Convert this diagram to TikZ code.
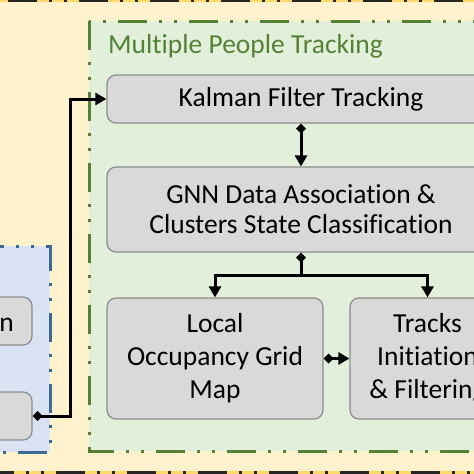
\documentclass[tikz,border=0pt]{standalone}
\usepackage{fontspec}
\setmainfont{Carlito}[Ligatures=NoCommon]
\usetikzlibrary{arrows.meta}
\definecolor{outerfill}{HTML}{FFF2CC}
\definecolor{outerline}{HTML}{FFD966}
\definecolor{bluefill}{HTML}{DAE3F3}
\definecolor{blueline}{HTML}{3A6A9A}
\definecolor{greenfill}{HTML}{E2EFDA}
\definecolor{greenline}{HTML}{548235}
\definecolor{boxfill}{HTML}{D9D9D9}
\definecolor{boxline}{HTML}{8C8C8C}
\tikzset{
  dashdd/.style={dash pattern=on 29pt off 12pt on 3pt off 12pt on 3pt off 12pt},
  procbox/.style={draw=boxline, fill=boxfill, line width=1.2pt, rounded corners=9pt,
    align=center, inner sep=0pt, font=\fontsize{27.5}{30}\selectfont},
  conn/.style={line width=3pt, -{Triangle[length=11pt,width=12pt]}},
  dconn/.style={line width=3pt, {Diamond[length=10pt,width=10pt]}-{Triangle[length=11pt,width=12pt]}},
}
\begin{document}
\begin{tikzpicture}[x=1pt,y=-1pt]
\useasboundingbox (0,0) rectangle (474,474);
\begin{scope}
\clip (0,0) rectangle (474,474);
% outer yellow box
\fill[outerfill] (-40,0) rectangle (520,474);
\draw[outerline, line width=4pt] (-40,0) rectangle (520,472.5);
\draw[black!85, line width=4pt, dashdd] (-40,0) rectangle (520,472.5);
% blue box
\draw[blueline, fill=bluefill, line width=3pt, dashdd] (-60,246) rectangle (50,452);
% green box
\draw[greenline, fill=greenfill, line width=3pt, dashdd] (89,21) rectangle (540,451);
\node[anchor=base west, text=greenline, font=\fontsize{27.5}{30}\selectfont, inner sep=0pt] (title) at (108,53) {Multiple People Tracking};
% nodes
\node[procbox, minimum width=388pt, minimum height=48pt] (kal) at (301,99) {Kalman Filter Tracking};
\node[procbox, minimum width=388pt, minimum height=85pt] (gnn) at (301,209.5) {GNN Data Association \&\\Clusters State Classification};
\node[procbox, minimum width=216pt, minimum height=121pt, font=\fontsize{27.5}{33}\selectfont] (loc) at (215,358.5) {Local\\Occupancy Grid\\Map};
\node[procbox, minimum width=155pt, minimum height=121pt, font=\fontsize{27.5}{33}\selectfont] (trk) at (427.5,358.5) {Tracks\\Initiation\\\& Filtering};
\node[procbox, minimum width=150pt, minimum height=48pt] (lu) at (-43,321) {};
\node[anchor=base east, inner sep=0pt, font=\fontsize{27.5}{30}\selectfont] (lut) at (14,331) {n};
\node[procbox, minimum width=150pt, minimum height=48pt] (ll) at (-43,416) {};
% connectors
\coordinate (bend) at (70,416);
\draw[dconn] (ll.east) -- (bend) |- (kal.west);
\draw[dconn] (kal.south) -- (gnn.north);
\coordinate (br) at (301,275);
\draw[line width=3pt, {Diamond[length=10pt,width=10pt]}-] (gnn.south) -- (br);
\draw[conn] (br) -| (loc.north);
\draw[conn] (br) -| (trk.north);
\draw[dconn] (loc.east) -- (trk.west);
\end{scope}
\end{tikzpicture}
\end{document}
